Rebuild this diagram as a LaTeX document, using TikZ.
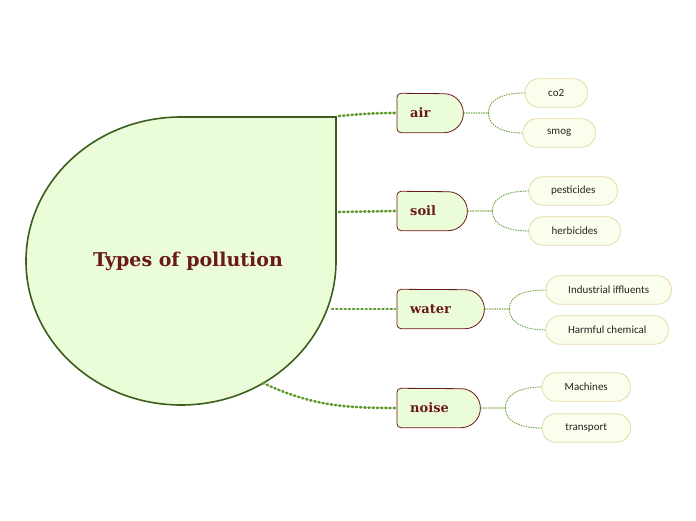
\documentclass[tikz,border=0pt]{standalone}
\usepackage{fontspec}
\setmainfont{DejaVu Serif}
\newfontfamily\leaffont{Carlito}
\definecolor{dred}{HTML}{6B1A1A}
\definecolor{mainfill}{HTML}{EBFCD8}
\definecolor{mainline}{HTML}{3B5E1E}
\definecolor{dotg}{HTML}{5E9A2A}
\definecolor{leaffill}{HTML}{FAFEEC}
\definecolor{leafline}{HTML}{E9D9A6}
\tikzset{
  box/.style={rectangle, inner sep=0pt, minimum height=#1, anchor=west},
  branch/.style={box=39pt, font=\bfseries\fontsize{13}{13}\selectfont, text=dred},
  leaf/.style={box=28pt, font=\leaffont\fontsize{11}{11}\selectfont, text=black!85},
  mainlink/.style={dotg, line width=2.6pt, line cap=round, dash pattern=on 1.2pt off 3pt},
  leaflink/.style={dotg!90!white, line width=0.9pt, dash pattern=on 1.5pt off 1pt},
}
\newcommand\branchshape[1]{%
  \draw[dred, line width=0.8pt, fill=mainfill] ([xshift=4pt]#1.south west) -- ([xshift=-19.5pt]#1.south east)
    arc[start angle=-90, end angle=90, radius=19.5pt] -- ([xshift=4pt]#1.north west)
    arc[start angle=90, end angle=180, radius=4pt] -- ([yshift=4pt]#1.south west)
    arc[start angle=180, end angle=270, radius=4pt] -- cycle;}
\newcommand\leafshape[1]{%
  \draw[leafline, line width=0.8pt, fill=leaffill, rounded corners=13.5pt] (#1.south west) rectangle (#1.north east);}
\begin{document}
\begin{tikzpicture}[x=1pt,y=1pt]
\useasboundingbox (0,0) rectangle (696,520);
\fill[white] (0,0) rectangle (696,520);
\draw[mainline, line width=1.6pt, fill=mainfill] (181,403) -- (336,403) -- (336,259) arc[start angle=0, end angle=-270, x radius=155, y radius=144] -- cycle;
\node[font=\bfseries\fontsize{19}{19}\selectfont, text=dred] (main) at (188,259) {Types of pollution};
\coordinate (m1) at (339,404);
\coordinate (m2) at (339,308);
\coordinate (m3) at (332,211);
\coordinate (m4) at (263,137);

\node[branch, minimum width=66pt] (air) at (397,407) {};
\node[branch, minimum width=70pt] (soil) at (397,309) {};
\node[branch, minimum width=87pt] (water) at (397,211) {};
\node[branch, minimum width=83pt] (noise) at (397,112) {};
\foreach \n/\t in {air/air, soil/soil, water/water, noise/noise}{
  \branchshape{\n}
  \node[anchor=west, font=\bfseries\fontsize{13}{13}\selectfont, text=dred, inner sep=0pt] at ([xshift=13pt]\n.west) {\t};
}

\node[leaf, minimum width=62pt] (co2) at (525,427) {};
\node[leaf, minimum width=72pt] (smog) at (523,387) {};
\node[leaf, minimum width=88pt] (pest) at (529,329) {};
\node[leaf, minimum width=91pt] (herb) at (529,289) {};
\node[leaf, minimum width=125pt] (ind) at (546,230) {};
\node[leaf, minimum width=122pt] (harm) at (546,190) {};
\node[leaf, minimum width=88pt] (mach) at (542,133) {};
\node[leaf, minimum width=88pt] (trans) at (542,92) {};
\foreach \n/\t in {co2/co2, smog/smog, pest/pesticides, herb/herbicides, ind/Industrial iffluents, harm/Harmful chemical, mach/Machines, trans/transport}{
  \leafshape{\n}
  \node[font=\leaffont\fontsize{11}{11}\selectfont, text=black!85] at (\n) {\t};
}

\draw[mainlink] (m1) to[out=5,in=180] ([xshift=-2pt]air.west);
\draw[mainlink] (m2) -- ([xshift=-2pt]soil.west);
\draw[mainlink] (m3) -- ([xshift=-2pt]water.west);
\draw[mainlink] (m4) to[out=-25,in=180] ([xshift=-2pt]noise.west);

\foreach \b/\l/\s in {air/co2/1, air/smog/-1, soil/pest/1, soil/herb/-1, water/ind/1, water/harm/-1, noise/mach/1, noise/trans/-1}{
  \draw[leaflink] (\b.east) -- ++(25,0) to[out=90*\s,in=180] (\l.west);
}
\end{tikzpicture}
\end{document}
